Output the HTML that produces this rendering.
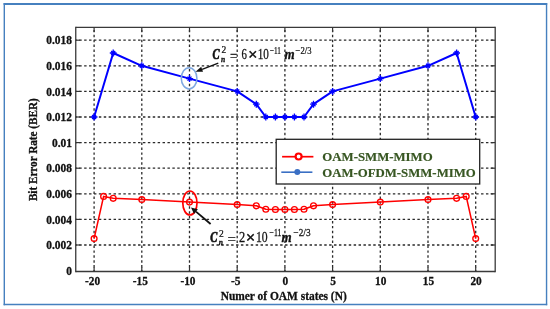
<!DOCTYPE html>
<html><head><meta charset="utf-8"><title>BER vs OAM states</title>
<style>
html,body{margin:0;padding:0;background:#fff;}
body{width:550px;height:309px;overflow:hidden;}
svg{display:block;}
text{font-family:"Liberation Serif","DejaVu Serif",serif;}
.b{font-weight:bold;}
.bi{font-weight:bold;font-style:italic;}
.tk{font-weight:bold;font-size:12.3px;fill:#111;stroke:#111;stroke-width:0.3px;}
</style></head><body>
<svg width="550" height="309" viewBox="0 0 550 309">
<rect x="0" y="0" width="550" height="309" fill="#fff"/>
<g stroke="#4680bf" fill="none"><path d="M3.6 3.95H547.2" stroke-width="2"/><path d="M4.3 3V305.3" stroke-width="1.4"/><path d="M546.55 3V305.3" stroke-width="1.4"/><path d="M3.6 304.6H547.2" stroke-width="1.5"/></g>

<g stroke="#2a2a2a" stroke-width="1.3" stroke-dasharray="2.45 2.45" fill="none">
<line x1="94.1" y1="27.4" x2="94.1" y2="271.45" stroke-dashoffset="-2.5"/>
<line x1="141.8" y1="27.4" x2="141.8" y2="271.45" stroke-dashoffset="-2.5"/>
<line x1="189.5" y1="27.4" x2="189.5" y2="271.45" stroke-dashoffset="-2.5"/>
<line x1="237.2" y1="27.4" x2="237.2" y2="271.45" stroke-dashoffset="-2.5"/>
<line x1="284.9" y1="27.4" x2="284.9" y2="271.45" stroke-dashoffset="-2.5"/>
<line x1="332.6" y1="27.4" x2="332.6" y2="271.45" stroke-dashoffset="-2.5"/>
<line x1="380.3" y1="27.4" x2="380.3" y2="271.45" stroke-dashoffset="-2.5"/>
<line x1="428.0" y1="27.4" x2="428.0" y2="271.45" stroke-dashoffset="-2.5"/>
<line x1="475.7" y1="27.4" x2="475.7" y2="271.45" stroke-dashoffset="-2.5"/>
<line x1="75.75" y1="245.0" x2="495.2" y2="245.0" stroke-dashoffset="-3.5"/>
<line x1="75.75" y1="219.4" x2="495.2" y2="219.4" stroke-dashoffset="-3.5"/>
<line x1="75.75" y1="193.8" x2="495.2" y2="193.8" stroke-dashoffset="-3.5"/>
<line x1="75.75" y1="168.2" x2="495.2" y2="168.2" stroke-dashoffset="-3.5"/>
<line x1="75.75" y1="142.6" x2="495.2" y2="142.6" stroke-dashoffset="-3.5"/>
<line x1="75.75" y1="117.0" x2="495.2" y2="117.0" stroke-dashoffset="-3.5"/>
<line x1="75.75" y1="91.4" x2="495.2" y2="91.4" stroke-dashoffset="-3.5"/>
<line x1="75.75" y1="65.8" x2="495.2" y2="65.8" stroke-dashoffset="-3.5"/>
<line x1="75.75" y1="40.2" x2="495.2" y2="40.2" stroke-dashoffset="-3.5"/>
</g>
<path d="M75.75 26.799999999999997V272.2M495.2 26.799999999999997V272.2" stroke="#3a3a3a" stroke-width="1.3" fill="none"/>
<path d="M75.75 27.4H495.2" stroke="#3a3a3a" stroke-width="1.3" fill="none"/>
<path d="M75.75 271.45H495.2" stroke="#3a3a3a" stroke-width="1.5" fill="none"/>
<g stroke="#333" stroke-width="1.2">
<line x1="94.1" y1="271.45" x2="94.1" y2="266.95"/>
<line x1="94.1" y1="27.4" x2="94.1" y2="31.9"/>
<line x1="141.8" y1="271.45" x2="141.8" y2="266.95"/>
<line x1="141.8" y1="27.4" x2="141.8" y2="31.9"/>
<line x1="189.5" y1="271.45" x2="189.5" y2="266.95"/>
<line x1="189.5" y1="27.4" x2="189.5" y2="31.9"/>
<line x1="237.2" y1="271.45" x2="237.2" y2="266.95"/>
<line x1="237.2" y1="27.4" x2="237.2" y2="31.9"/>
<line x1="284.9" y1="271.45" x2="284.9" y2="266.95"/>
<line x1="284.9" y1="27.4" x2="284.9" y2="31.9"/>
<line x1="332.6" y1="271.45" x2="332.6" y2="266.95"/>
<line x1="332.6" y1="27.4" x2="332.6" y2="31.9"/>
<line x1="380.3" y1="271.45" x2="380.3" y2="266.95"/>
<line x1="380.3" y1="27.4" x2="380.3" y2="31.9"/>
<line x1="428.0" y1="271.45" x2="428.0" y2="266.95"/>
<line x1="428.0" y1="27.4" x2="428.0" y2="31.9"/>
<line x1="475.7" y1="271.45" x2="475.7" y2="266.95"/>
<line x1="475.7" y1="27.4" x2="475.7" y2="31.9"/>
<line x1="75.75" y1="245.0" x2="80.25" y2="245.0"/>
<line x1="495.2" y1="245.0" x2="490.7" y2="245.0"/>
<line x1="75.75" y1="219.4" x2="80.25" y2="219.4"/>
<line x1="495.2" y1="219.4" x2="490.7" y2="219.4"/>
<line x1="75.75" y1="193.8" x2="80.25" y2="193.8"/>
<line x1="495.2" y1="193.8" x2="490.7" y2="193.8"/>
<line x1="75.75" y1="168.2" x2="80.25" y2="168.2"/>
<line x1="495.2" y1="168.2" x2="490.7" y2="168.2"/>
<line x1="75.75" y1="142.6" x2="80.25" y2="142.6"/>
<line x1="495.2" y1="142.6" x2="490.7" y2="142.6"/>
<line x1="75.75" y1="117.0" x2="80.25" y2="117.0"/>
<line x1="495.2" y1="117.0" x2="490.7" y2="117.0"/>
<line x1="75.75" y1="91.4" x2="80.25" y2="91.4"/>
<line x1="495.2" y1="91.4" x2="490.7" y2="91.4"/>
<line x1="75.75" y1="65.8" x2="80.25" y2="65.8"/>
<line x1="495.2" y1="65.8" x2="490.7" y2="65.8"/>
<line x1="75.75" y1="40.2" x2="80.25" y2="40.2"/>
<line x1="495.2" y1="40.2" x2="490.7" y2="40.2"/>
</g>
<text class="tk" x="72" y="274.7" text-anchor="end" textLength="5.7" lengthAdjust="spacingAndGlyphs">0</text>
<text class="tk" x="72" y="249.1" text-anchor="end" textLength="25.7" lengthAdjust="spacingAndGlyphs">0.002</text>
<text class="tk" x="72" y="223.5" text-anchor="end" textLength="25.7" lengthAdjust="spacingAndGlyphs">0.004</text>
<text class="tk" x="72" y="197.9" text-anchor="end" textLength="25.7" lengthAdjust="spacingAndGlyphs">0.006</text>
<text class="tk" x="72" y="172.3" text-anchor="end" textLength="25.7" lengthAdjust="spacingAndGlyphs">0.008</text>
<text class="tk" x="72" y="146.7" text-anchor="end" textLength="20.0" lengthAdjust="spacingAndGlyphs">0.01</text>
<text class="tk" x="72" y="121.1" text-anchor="end" textLength="25.7" lengthAdjust="spacingAndGlyphs">0.012</text>
<text class="tk" x="72" y="95.5" text-anchor="end" textLength="25.7" lengthAdjust="spacingAndGlyphs">0.014</text>
<text class="tk" x="72" y="69.9" text-anchor="end" textLength="25.7" lengthAdjust="spacingAndGlyphs">0.016</text>
<text class="tk" x="72" y="44.3" text-anchor="end" textLength="25.7" lengthAdjust="spacingAndGlyphs">0.018</text>
<text class="tk" x="92.6" y="285.3" text-anchor="middle" textLength="15.1" lengthAdjust="spacingAndGlyphs">-20</text>
<text class="tk" x="140.3" y="285.3" text-anchor="middle" textLength="15.1" lengthAdjust="spacingAndGlyphs">-15</text>
<text class="tk" x="188.0" y="285.3" text-anchor="middle" textLength="15.1" lengthAdjust="spacingAndGlyphs">-10</text>
<text class="tk" x="235.7" y="285.3" text-anchor="middle" textLength="9.5" lengthAdjust="spacingAndGlyphs">-5</text>
<text class="tk" x="285.3" y="285.3" text-anchor="middle" textLength="5.7" lengthAdjust="spacingAndGlyphs">0</text>
<text class="tk" x="333.0" y="285.3" text-anchor="middle" textLength="5.7" lengthAdjust="spacingAndGlyphs">5</text>
<text class="tk" x="380.7" y="285.3" text-anchor="middle" textLength="11.3" lengthAdjust="spacingAndGlyphs">10</text>
<text class="tk" x="428.4" y="285.3" text-anchor="middle" textLength="11.3" lengthAdjust="spacingAndGlyphs">15</text>
<text class="tk" x="476.1" y="285.3" text-anchor="middle" textLength="11.3" lengthAdjust="spacingAndGlyphs">20</text>
<text class="tk" x="283.7" y="299.5" text-anchor="middle" textLength="126" lengthAdjust="spacingAndGlyphs">Numer of OAM states (N)</text>
<text class="tk" transform="translate(37.4,149.7) rotate(-90)" text-anchor="middle" textLength="102.8" lengthAdjust="spacingAndGlyphs">Bit Error Rate (BER)</text>
<polyline points="94.1,117.0 113.2,53.0 141.8,65.8 189.5,78.6 237.2,91.4 256.3,104.2 265.8,117.0 275.4,117.0 284.9,117.0 294.4,117.0 304.0,117.0 313.5,104.2 332.6,91.4 380.3,78.6 428.0,65.8 456.6,53.0 475.7,117.0" fill="none" stroke="#0000ff" stroke-width="2" stroke-linejoin="round"/>
<g stroke="#0000ff" stroke-width="1.3" fill="#0000ff">
<path d="M90.7 117.0H97.5M94.1 113.5V120.5M92.1 115.0L96.1 119.0M92.1 119.0L96.1 115.0"/>
<path d="M109.8 53.0H116.6M113.2 49.5V56.5M111.2 51.0L115.2 55.0M111.2 55.0L115.2 51.0"/>
<path d="M138.4 65.8H145.2M141.8 62.3V69.3M139.8 63.8L143.8 67.8M139.8 67.8L143.8 63.8"/>
<path d="M186.1 78.6H192.9M189.5 75.1V82.1M187.5 76.6L191.5 80.6M187.5 80.6L191.5 76.6"/>
<path d="M233.8 91.4H240.6M237.2 87.9V94.9M235.2 89.4L239.2 93.4M235.2 93.4L239.2 89.4"/>
<path d="M252.9 104.2H259.7M256.3 100.7V107.7M254.3 102.2L258.3 106.2M254.3 106.2L258.3 102.2"/>
<path d="M262.4 117.0H269.2M265.8 113.5V120.5M263.8 115.0L267.8 119.0M263.8 119.0L267.8 115.0"/>
<path d="M272.0 117.0H278.8M275.4 113.5V120.5M273.4 115.0L277.4 119.0M273.4 119.0L277.4 115.0"/>
<path d="M281.5 117.0H288.3M284.9 113.5V120.5M282.9 115.0L286.9 119.0M282.9 119.0L286.9 115.0"/>
<path d="M291.0 117.0H297.8M294.4 113.5V120.5M292.4 115.0L296.4 119.0M292.4 119.0L296.4 115.0"/>
<path d="M300.6 117.0H307.4M304.0 113.5V120.5M302.0 115.0L306.0 119.0M302.0 119.0L306.0 115.0"/>
<path d="M310.1 104.2H316.9M313.5 100.7V107.7M311.5 102.2L315.5 106.2M311.5 106.2L315.5 102.2"/>
<path d="M329.2 91.4H336.0M332.6 87.9V94.9M330.6 89.4L334.6 93.4M330.6 93.4L334.6 89.4"/>
<path d="M376.9 78.6H383.7M380.3 75.1V82.1M378.3 76.6L382.3 80.6M378.3 80.6L382.3 76.6"/>
<path d="M424.6 65.8H431.4M428.0 62.3V69.3M426.0 63.8L430.0 67.8M426.0 67.8L430.0 63.8"/>
<path d="M453.2 53.0H460.0M456.6 49.5V56.5M454.6 51.0L458.6 55.0M454.6 55.0L458.6 51.0"/>
<path d="M472.3 117.0H479.1M475.7 113.5V120.5M473.7 115.0L477.7 119.0M473.7 119.0L477.7 115.0"/>
</g>
<polyline points="94.1,238.6 103.6,196.4 113.2,198.3 141.8,199.6 189.5,202.1 237.2,204.6 256.3,205.8 265.8,209.2 275.4,209.5 284.9,209.5 294.4,209.5 304.0,209.2 313.5,205.8 332.6,204.6 380.3,202.1 428.0,199.6 456.6,198.3 466.2,196.4 475.7,238.6" fill="none" stroke="#ff0000" stroke-width="1.55" stroke-linejoin="round"/>
<g stroke="#ff0000" stroke-width="1.35" fill="none">
<circle cx="94.1" cy="238.6" r="2.9"/>
<circle cx="103.6" cy="196.4" r="2.9"/>
<circle cx="113.2" cy="198.3" r="2.9"/>
<circle cx="141.8" cy="199.6" r="2.9"/>
<circle cx="189.5" cy="202.1" r="2.9"/>
<circle cx="237.2" cy="204.6" r="2.9"/>
<circle cx="256.3" cy="205.8" r="2.9"/>
<circle cx="265.8" cy="209.2" r="2.9"/>
<circle cx="275.4" cy="209.5" r="2.9"/>
<circle cx="284.9" cy="209.5" r="2.9"/>
<circle cx="294.4" cy="209.5" r="2.9"/>
<circle cx="304.0" cy="209.2" r="2.9"/>
<circle cx="313.5" cy="205.8" r="2.9"/>
<circle cx="332.6" cy="204.6" r="2.9"/>
<circle cx="380.3" cy="202.1" r="2.9"/>
<circle cx="428.0" cy="199.6" r="2.9"/>
<circle cx="456.6" cy="198.3" r="2.9"/>
<circle cx="466.2" cy="196.4" r="2.9"/>
<circle cx="475.7" cy="238.6" r="2.9"/>
</g>
<rect x="276.2" y="139.3" width="203.5" height="44.7" fill="#fff" stroke="#222" stroke-width="1.3"/>
<line x1="282.1" y1="156.7" x2="313.4" y2="156.7" stroke="#ff0000" stroke-width="1.7"/>
<circle cx="298.6" cy="156.5" r="3.0" fill="#fff" stroke="#ff0000" stroke-width="2.2"/>
<line x1="281.3" y1="172.2" x2="312.4" y2="172.2" stroke="#3a6fc4" stroke-width="1.6"/>
<circle cx="297.3" cy="171.9" r="3.0" fill="#3a6fc4"/>
<text class="b" x="322.3" y="161.3" font-size="13.4" fill="#385723" stroke="#385723" stroke-width="0.2" textLength="110.4" lengthAdjust="spacingAndGlyphs">OAM-SMM-MIMO</text>
<text class="b" x="322.3" y="176.9" font-size="13.4" fill="#385723" stroke="#385723" stroke-width="0.2" textLength="153.4" lengthAdjust="spacingAndGlyphs">OAM-OFDM-SMM-MIMO</text>
<g fill="#111"><text class="bi" stroke="#111" stroke-width="0.7" transform="translate(212.50,58.50) scale(0.773,1)" font-size="13.6">C</text><text stroke="#111" stroke-width="0.25" transform="translate(221.40,53.20) scale(0.97,1)" font-size="9.8">2</text><text class="bi" stroke="#111" stroke-width="0.3" transform="translate(221.00,61.70) scale(0.95,1)" font-size="8">n</text><text stroke="#111" stroke-width="0.25" transform="translate(229.90,60.80) scale(0.956,1)" font-size="13.6">=</text><text stroke="#111" stroke-width="0.25" transform="translate(241.56,58.50) scale(0.795,1)" font-size="13.6">6</text><text class="b" stroke="#111" stroke-width="0.25" transform="translate(248.10,59.80) scale(1.057,1)" font-size="16">×</text><text stroke="#111" stroke-width="0.25" transform="translate(257.70,58.50) scale(0.82,1)" font-size="13.6">10</text><text stroke="#111" stroke-width="0.25" transform="translate(269.90,53.90) scale(0.7,1)" font-size="10.4">−11</text><text class="bi" stroke="#111" stroke-width="0.3" transform="translate(284.50,58.50) scale(0.96,1)" font-size="13.6">m</text><text stroke="#111" stroke-width="0.25" transform="translate(295.60,54.10) scale(0.83,1)" font-size="10.4">−2/3</text></g>
<g fill="#111"><text class="bi" stroke="#111" stroke-width="0.7" transform="translate(210.20,242.00) scale(0.773,1)" font-size="13.6">C</text><text stroke="#111" stroke-width="0.25" transform="translate(219.10,237.10) scale(0.97,1)" font-size="9.8">2</text><text class="bi" stroke="#111" stroke-width="0.3" transform="translate(218.70,245.20) scale(0.95,1)" font-size="8">n</text><text stroke="#111" stroke-width="0.25" transform="translate(227.60,243.50) scale(1.0994,1)" font-size="13.6">=</text><text stroke="#111" stroke-width="0.25" transform="translate(238.96,242.00) scale(0.91425,1)" font-size="13.6">2</text><text class="b" stroke="#111" stroke-width="0.25" transform="translate(245.80,243.30) scale(1.057,1)" font-size="16">×</text><text stroke="#111" stroke-width="0.25" transform="translate(255.90,242.00) scale(0.86,1)" font-size="13.6">10</text><text stroke="#111" stroke-width="0.25" transform="translate(269.60,235.70) scale(0.75,1)" font-size="10.4">−11</text><text class="bi" stroke="#111" stroke-width="0.3" transform="translate(281.60,242.00) scale(0.96,1)" font-size="13.6">m</text><text stroke="#111" stroke-width="0.25" transform="translate(293.50,235.90) scale(0.89,1)" font-size="10.4">−2/3</text></g>
<ellipse cx="189.1" cy="78.3" rx="7.8" ry="10.6" fill="none" stroke="#7fa8e0" stroke-width="1.5"/>
<ellipse cx="189.9" cy="203" rx="7.1" ry="12" fill="none" stroke="#ff0000" stroke-width="1.7"/>
<line x1="218.3" y1="63.2" x2="202.1" y2="69.3" stroke="#111" stroke-width="1.3"/><polygon points="195.5,71.7 201.2,66.8 203.0,71.7" fill="#111"/>
<line x1="210.6" y1="224" x2="196.0" y2="211.6" stroke="#111" stroke-width="1.8"/><polygon points="191.0,207.4 197.9,209.3 194.0,213.9" fill="#111"/>
</svg></body></html>
